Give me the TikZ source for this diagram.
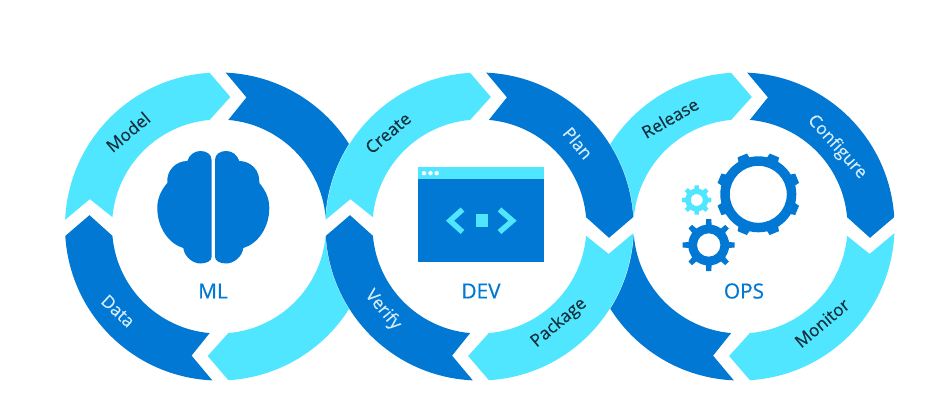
\documentclass[tikz,border=0pt]{standalone}
\usepackage{fontspec}
\setmainfont{Open Sans}[FakeBold=0.25]
\newfontfamily\labelfont{Open Sans}[FakeBold=0.25]
\newfontfamily\hubfont{Open Sans}[FakeBold=0.5]
\definecolor{azure}{HTML}{0078D4}
\definecolor{sky}{HTML}{50E6FF}
\definecolor{inkdark}{HTML}{14303C}
\definecolor{inklight}{HTML}{D5EDFB}
\tikzset{
  onsky/.style={text=inkdark,font=\labelfont\fontsize{13pt}{15pt}\selectfont,inner sep=0pt},
  onazure/.style={text=inklight,font=\labelfont\fontsize{13pt}{15pt}\selectfont,inner sep=0pt},
  hub/.style={text=azure,font=\hubfont\fontsize{15.6pt}{17pt}\selectfont,inner sep=0pt}
}
\newcommand{\ringseg}[2]{%
  \fill[#2,rotate=#1] (177.5:154) -- (168:132) -- (175:107)
    arc[start angle=175,end angle=95,radius=107] -- (85:130) -- (93.5:154)
    arc[start angle=93.5,end angle=177.5,radius=154] -- cycle;}
\newcommand{\wheel}[2]{%
  \begin{scope}[shift={(#1,#2)}]
    \fill[white] (0,0) circle[radius=154.3];
    \ringseg{0}{sky}\ringseg{-90}{azure}\ringseg{-180}{sky}\ringseg{-270}{azure}
  \end{scope}}
% centre x, centre y, ring radius, tip radius, hole radius, tooth width, first angle, colour
\newcommand{\gearwheel}[8]{%
  \begin{scope}[shift={(#1,#2)}]
    \fill[#8,even odd rule] (0,0) circle[radius=#3] (0,0) circle[radius=#5];
    \foreach \k in {0,...,7}{
      \fill[#8,rotate=#7+45*\k] (#3-1,-#6/2) -- (#4,-#6*0.42) -- (#4,#6*0.42) -- (#3-1,#6/2) -- cycle;
    }
  \end{scope}}
\newcommand{\brainhalf}{%
  \fill[azure] (1.7,160) .. controls (1.7,154) and (7,151) .. (13,151)
    .. controls (19,151) and (24,155) .. (26,161)
    .. controls (37,161) and (47,170) .. (46,183)
    .. controls (52,190) and (56,198) .. (56,208)
    .. controls (56,228) and (44,244) .. (30,248)
    .. controls (29,257) and (20,263.5) .. (13,263.5)
    .. controls (7,263.5) and (1.7,261) .. (1.7,257) -- cycle;}
\begin{document}
\begin{tikzpicture}[x=0.75pt,y=0.75pt]
\useasboundingbox (0,0) rectangle (940,405);
\fill[white] (0,0) rectangle (940,405);
\wheel{219}{178.5}
\wheel{740.5}{178.5}
\wheel{479.5}{178.5}
% brain
\begin{scope}[shift={(213.3,405)},yscale=-1]
  \brainhalf
  \begin{scope}[xscale=-1]\brainhalf\end{scope}
\end{scope}
% window
\begin{scope}[shift={(0,405)},yscale=-1]
  \fill[azure] (418.3,179) rectangle (544.3,261.7);
  \fill[sky] (418.3,167.3) rectangle (544.3,179);
  \foreach \xx in {424,430.5,436.7} \fill[white] (\xx,173.2) circle[radius=2.2];
  \draw[sky,line width=4.1pt,miter limit=10] (462.5,209.5) -- (450,220.7) -- (462.5,232);
  \draw[sky,line width=4.1pt,miter limit=10] (499.5,209.5) -- (512.5,220.7) -- (499.5,232);
  \fill[sky] (475.7,214.3) rectangle (487.7,226.7);
\end{scope}
% gears
\gearwheel{758.3}{210.7}{38}{42}{28.5}{12}{22.5}{azure}
\gearwheel{708.7}{160}{20.5}{26}{11.7}{6}{0}{azure}
\gearwheel{696.7}{205}{11.5}{14.7}{6}{5}{0}{sky}
% labels
\node[onsky,rotate=40] (model) at (128,273) {Model};
\node[onazure,rotate=-43] (data) at (118,94) {Data};
\node[onsky,rotate=40] (create) at (388,272) {Create};
\node[onazure,rotate=-50] (plan) at (578,262) {Plan};
\node[onazure,rotate=-50] (verify) at (383,95) {Verify};
\node[onsky,rotate=40] (package) at (559,82) {Package};
\node[onsky,rotate=30] (release) at (670,287) {Release};
\node[onazure,rotate=-48] (configure) at (837,258) {Configure};
\node[onsky,rotate=40] (monitor) at (822,82) {Monitor};
\node[hub] (ml) at (213,114) {ML};
\node[hub] (dev) at (481,114) {DEV};
\node[hub] (ops) at (744,114) {OPS};
\end{tikzpicture}
\end{document}
